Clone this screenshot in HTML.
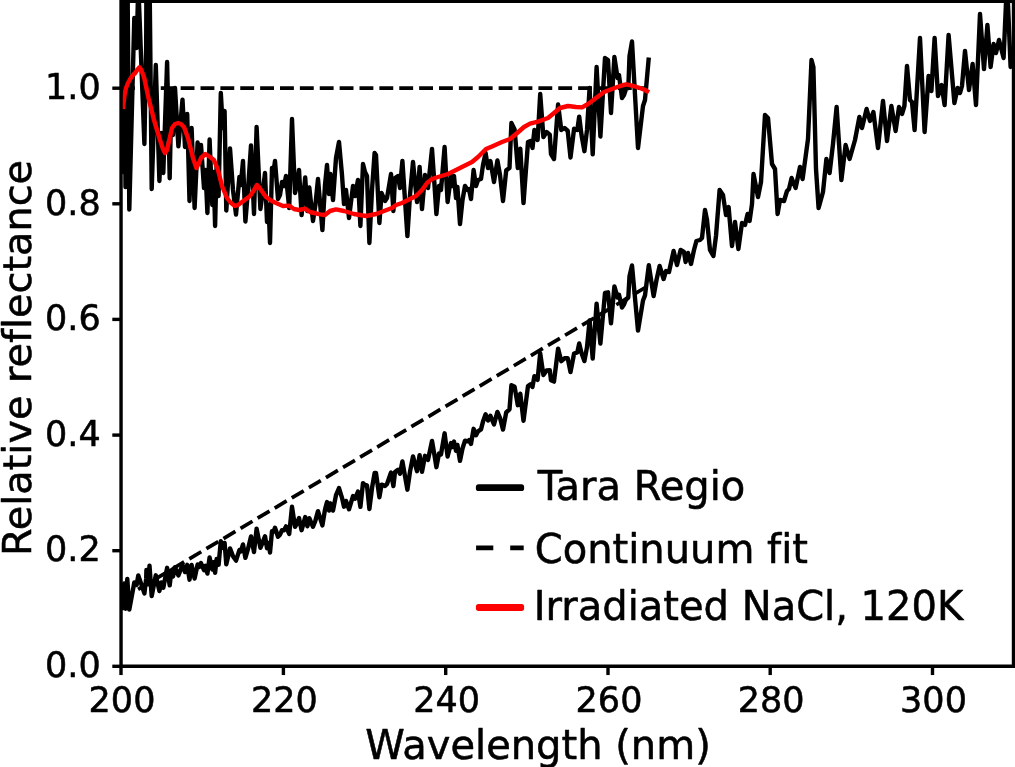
<!DOCTYPE html>
<html lang="en"><head><meta charset="utf-8"><title>Relative reflectance vs Wavelength</title>
<style>html,body{margin:0;padding:0;background:#fff}svg{display:block}text{font-variant-ligatures:none;font-feature-settings:"liga" 0,"clig" 0}</style></head>
<body>
<svg width="1015" height="767" viewBox="0 0 1015 767">
<rect width="1015" height="767" fill="#fff"/>
<defs><clipPath id="c"><rect x="121.05" y="1.2" width="892.45" height="665.0999999999999"/></clipPath></defs>
<g clip-path="url(#c)" fill="none" stroke-linejoin="round">
<polyline points="121.0,605.5 122.3,584.9 123.2,608.1 124.2,583.5 125.5,608.7 127.3,578.9 129.3,609.6 134.3,582.5 136.6,584.9 138.3,575.4 144.4,593.4 146.2,578.4 146.4,570.0 148.0,584.4 149.5,565.7 151.7,596.1 155.8,575.3 159.4,591.0 161.3,582.5 163.3,587.8 167.1,567.8 169.7,585.4 171.5,570.1 173.0,576.5 175.0,567.3 178.4,575.5 182.5,564.9 185.0,572.1 187.2,564.8 189.5,579.7 191.6,565.0 194.6,578.6 197.6,564.5 199.5,566.9 201.0,563.1 204.0,570.2 205.5,565.8 207.4,573.6 209.6,557.4 212.3,569.6 213.6,562.1 215.1,572.8 216.6,559.0 218.6,564.7 220.8,541.1 222.8,547.7 224.6,542.9 226.3,564.2 230.0,548.4 233.0,556.3 236.0,560.6 239.4,550.1 240.8,551.3 243.0,544.4 245.4,557.9 248.0,549.0 251.0,536.4 254.0,552.1 256.6,528.7 260.4,547.8 263.0,541.6 265.0,536.2 267.0,548.2 268.5,542.9 270.0,552.5 272.0,531.3 273.5,531.6 275.0,527.8 278.0,536.8 280.0,534.7 282.0,530.1 284.0,530.2 286.0,526.4 289.2,534.0 292.0,506.7 295.0,526.8 297.0,523.5 299.0,518.0 301.6,530.2 303.5,523.3 305.2,517.1 307.4,526.3 309.3,518.2 313.0,526.8 315.4,520.7 318.0,511.2 322.4,525.4 325.0,509.6 327.0,502.1 329.0,510.6 330.4,503.3 333.0,510.6 336.0,495.1 339.0,488.1 342.0,497.8 344.0,506.7 346.0,500.9 349.0,509.3 353.0,496.1 355.0,498.7 358.0,491.5 360.4,506.9 363.0,483.1 365.0,485.0 367.0,485.5 369.4,509.1 372.0,488.2 374.6,473.0 376.0,473.0 379.4,497.2 381.6,484.6 385.0,486.1 387.0,484.0 391.0,472.6 393.4,486.0 395.0,472.1 398.0,469.8 400.0,473.7 402.4,461.5 405.0,476.1 407.4,489.7 410.0,471.6 413.0,456.4 417.0,471.2 419.6,455.1 422.0,471.8 425.0,455.8 428.0,459.9 432.0,440.9 434.5,455.4 436.4,467.2 439.0,453.6 441.0,454.4 444.6,433.3 447.6,456.5 451.0,443.1 452.4,446.9 454.0,441.6 456.0,450.7 457.4,444.9 460.0,460.8 462.5,448.5 465.0,440.7 467.6,441.3 469.0,440.2 471.0,443.9 473.6,428.8 476.0,435.3 478.0,431.4 481.0,429.4 483.0,421.6 485.6,414.3 488.0,420.5 490.4,415.8 494.0,424.4 497.4,411.9 500.0,417.8 503.0,429.6 506.2,412.4 509.5,409.4 511.4,385.2 514.6,386.8 517.8,405.2 520.3,393.7 523.5,420.8 528.0,386.0 530.5,384.2 532.5,386.9 534.4,376.1 537.6,379.8 540.2,353.2 543.4,375.0 546.6,370.5 549.8,370.2 551.0,380.3 554.0,381.6 558.1,348.6 561.3,361.2 564.5,358.3 567.7,358.1 570.5,372.1 574.1,353.5 577.3,352.4 579.2,343.5 581.5,353.0 584.4,361.1 587.0,347.1 589.6,320.5 592.7,358.6 596.6,303.6 600.4,343.6 605.0,292.9 608.0,292.3 611.0,323.3 614.4,286.4 617.6,297.6 619.0,294.8 622.0,307.5 624.0,304.5 626.0,299.5 628.3,297.5 629.5,276.3 632.0,265.4 638.0,330.6 643.0,300.5 645.0,295.4 648.8,265.2 653.6,296.0 656.5,280.0 659.6,266.0 663.6,279.0 666.0,271.0 669.0,272.0 673.6,251.0 677.0,265.0 680.6,250.0 684.0,252.0 685.6,262.0 688.0,253.0 691.0,264.0 694.0,250.0 696.4,241.0 700.0,240.0 702.0,238.0 705.0,210.0 707.0,220.0 710.0,250.0 713.4,256.0 716.0,236.0 719.6,190.0 723.0,195.0 726.0,215.0 728.6,207.0 732.0,246.0 735.0,222.0 738.4,249.0 742.0,223.0 745.0,225.0 747.6,214.0 749.6,221.0 752.0,204.0 753.5,174.0 758.0,197.0 761.0,182.0 765.0,115.0 768.0,118.0 772.0,164.0 775.0,169.0 777.6,214.0 780.0,200.0 784.0,201.0 787.0,191.0 789.0,189.0 791.6,178.0 795.6,188.0 800.0,167.0 802.6,179.0 808.0,139.0 811.5,60.0 813.4,67.0 816.0,169.0 818.6,208.0 823.0,192.0 826.4,159.0 829.6,173.0 833.0,144.0 836.6,107.0 841.4,180.0 845.6,145.0 849.6,159.0 855.0,140.0 859.4,117.0 862.0,128.0 866.6,109.0 870.0,121.0 873.4,112.0 878.0,148.0 883.0,101.0 887.0,141.0 891.4,106.0 895.6,131.0 899.0,107.0 902.0,114.0 904.4,106.0 907.0,66.0 910.0,100.0 912.0,102.0 914.6,130.0 920.0,38.0 924.6,132.0 928.6,76.0 931.4,91.0 934.6,38.0 938.0,96.0 941.6,85.0 944.6,105.0 948.6,35.0 954.4,103.0 957.6,88.0 960.0,93.0 962.0,86.0 965.0,51.0 969.0,90.0 972.6,64.0 976.0,105.0 980.0,14.0 984.0,69.0 987.4,25.0 990.6,67.0 993.6,44.0 996.0,53.0 999.0,40.0 1003.6,58.0 1007.0,-20.0 1010.6,67.0 1013.0,64.0" stroke="#000" stroke-width="4.4" stroke-linecap="butt"/>
<path d="M121,599.5 L647.5,286.2" stroke="#000" stroke-width="3.75" stroke-dasharray="13.875,6"/>
<polyline points="121.0,140.0 122.3,-30.0 123.2,172.0 124.2,-30.0 125.5,187.0 127.3,-50.0 129.3,209.5 134.3,18.0 136.6,48.0 138.3,-15.0 144.4,144.0 146.2,45.0 146.4,-13.0 148.0,95.0 149.5,-28.0 151.7,189.0 155.8,65.0 159.4,181.0 161.3,133.0 163.3,173.0 167.1,62.0 169.7,178.3 171.5,92.0 173.0,135.0 175.0,88.0 178.4,146.3 182.5,99.6 185.0,147.0 187.2,114.0 189.5,201.0 191.6,128.0 194.6,208.0 197.6,142.5 199.5,160.0 201.0,145.0 204.0,188.0 205.5,170.0 207.4,213.0 209.6,139.5 212.3,205.0 213.6,172.0 215.1,226.0 216.6,165.0 218.6,196.0 220.8,93.0 222.8,128.0 224.6,111.0 226.3,210.5 230.0,148.5 233.0,190.0 236.0,214.5 239.4,177.0 240.8,185.0 243.0,161.0 245.4,221.5 248.0,190.0 251.0,145.5 254.0,214.0 256.6,127.0 260.4,209.0 263.0,190.0 265.0,173.0 267.0,222.0 268.5,205.0 270.0,243.0 272.0,168.0 273.5,172.0 275.0,161.0 278.0,199.0 280.0,195.0 282.0,182.0 284.0,186.0 286.0,176.0 289.2,208.0 292.0,119.0 295.0,193.0 297.0,185.0 299.0,170.0 301.6,215.0 303.5,195.0 305.2,177.5 307.4,211.0 309.3,187.5 313.0,221.0 315.4,205.0 318.0,179.0 322.4,230.0 325.0,185.0 327.0,165.0 329.0,194.0 330.4,174.0 333.0,200.0 336.0,158.0 339.0,142.0 342.0,175.0 344.0,204.0 346.0,190.0 349.0,218.0 353.0,186.0 355.0,196.0 358.0,180.0 360.4,226.0 363.0,164.0 365.0,172.0 367.0,176.0 369.4,243.0 372.0,190.0 374.6,153.0 376.0,155.0 379.4,223.0 381.6,193.0 385.0,201.0 387.0,198.0 391.0,174.0 393.4,211.0 395.0,178.0 398.0,176.0 400.0,188.0 402.4,161.0 405.0,200.0 407.4,236.0 410.0,195.0 413.0,162.0 417.0,202.0 419.6,167.0 422.0,209.0 425.0,175.0 428.0,188.0 432.0,149.0 434.5,185.0 436.4,214.0 439.0,186.0 441.0,190.0 444.6,147.0 447.6,202.0 451.0,176.0 452.4,186.0 454.0,176.0 456.0,198.0 457.4,187.0 460.0,224.0 462.5,200.0 465.0,186.0 467.6,190.0 469.0,189.0 471.0,199.0 473.6,170.0 476.0,186.0 478.0,180.0 481.0,179.0 483.0,165.0 485.6,153.0 488.0,168.0 490.4,161.0 494.0,182.0 497.4,160.5 500.0,175.0 503.0,201.0 506.2,170.4 509.5,168.0 511.4,123.0 514.6,129.5 517.8,168.0 520.3,148.7 523.5,203.0 528.0,142.0 530.5,141.0 532.5,148.0 534.4,130.0 537.6,140.0 540.2,94.0 543.4,137.0 546.6,132.0 549.8,134.6 551.0,154.0 554.0,159.0 558.1,104.5 561.3,130.0 564.5,128.0 567.7,130.7 570.5,157.6 574.1,128.8 577.3,130.0 579.2,116.6 581.5,135.0 584.4,151.2 587.0,130.0 589.6,88.0 592.7,154.4 596.6,67.0 600.4,136.5 605.0,58.0 608.0,60.0 611.0,113.0 614.4,57.0 617.6,78.0 619.0,75.0 622.0,98.0 624.0,95.0 626.0,89.0 628.3,88.0 629.5,56.0 632.0,41.5 638.0,148.0 643.0,106.0 645.0,100.0 648.8,57.5" stroke="#000" stroke-width="4.4" stroke-linecap="butt"/>
<path d="M121,88.1 H647.5" stroke="#000" stroke-width="3.75" stroke-dasharray="13.875,6"/>
<polyline points="122.9,109.0 123.6,103.0 124.5,95.0 126.0,88.0 128.0,83.0 130.5,78.5 133.0,75.0 135.2,73.0 137.5,69.5 139.5,67.3 141.3,70.0 144.0,77.0 148.5,98.0 154.0,120.0 160.0,140.0 163.0,149.0 165.0,153.0 167.0,150.0 172.0,128.0 175.0,124.0 178.0,123.0 181.0,124.0 184.0,127.0 188.0,138.0 193.0,158.0 196.4,168.0 198.5,164.0 201.0,158.0 205.4,154.0 210.0,157.0 214.0,160.0 218.0,170.0 222.0,186.0 227.0,198.0 231.0,203.0 235.0,206.0 238.0,205.0 242.0,202.0 250.0,196.0 254.0,190.0 257.0,185.0 259.0,187.0 261.0,190.0 266.0,197.0 271.0,200.5 276.0,203.0 283.0,206.0 289.0,205.6 294.0,209.0 299.0,210.0 305.0,208.6 310.0,212.0 320.0,214.4 325.0,215.0 330.0,211.0 336.0,209.4 344.0,211.0 354.0,214.0 366.0,216.0 376.0,214.0 384.0,211.0 392.0,208.0 396.0,205.0 402.0,203.0 408.0,200.0 416.0,196.0 422.0,190.0 427.0,183.0 432.0,179.0 438.0,177.0 448.0,174.0 458.0,169.0 466.0,165.0 472.0,162.0 478.0,157.0 486.0,149.0 492.0,146.4 502.0,142.0 510.0,139.0 516.0,134.0 524.0,127.0 530.0,123.6 538.0,121.6 548.0,118.0 554.0,113.0 560.0,108.0 568.0,106.0 576.0,107.0 582.0,107.4 588.0,104.0 596.0,98.0 604.0,92.0 612.0,89.0 620.0,86.0 626.0,84.4 632.0,85.6 640.0,88.0 645.0,90.0 649.0,92.4" stroke="#f00" stroke-width="4.4" stroke-linecap="butt"/>
</g>
<path d="M121.05,1.2 V666.3 H1013.5 V1.2 Z" stroke="#000" stroke-width="3.4" fill="none" stroke-linejoin="miter"/>
<g stroke="#000" stroke-width="3.4">
<line x1="121.0" y1="666.3" x2="121.0" y2="675.05"/>
<line x1="283.4" y1="666.3" x2="283.4" y2="675.05"/>
<line x1="445.7" y1="666.3" x2="445.7" y2="675.05"/>
<line x1="608.0" y1="666.3" x2="608.0" y2="675.05"/>
<line x1="770.2" y1="666.3" x2="770.2" y2="675.05"/>
<line x1="932.5" y1="666.3" x2="932.5" y2="675.05"/>
<line x1="112.3" y1="666.3" x2="121.05" y2="666.3"/>
<line x1="112.3" y1="550.7" x2="121.05" y2="550.7"/>
<line x1="112.3" y1="435.1" x2="121.05" y2="435.1"/>
<line x1="112.3" y1="319.4" x2="121.05" y2="319.4"/>
<line x1="112.3" y1="203.8" x2="121.05" y2="203.8"/>
<line x1="112.3" y1="88.2" x2="121.05" y2="88.2"/>
</g>
<g font-family="'DejaVu Sans', 'Liberation Sans', sans-serif" fill="#000" stroke="#000" stroke-width="0.55" stroke-linejoin="round">
<g font-size="35" text-anchor="middle">
<text x="122.0" y="712.4">200</text>
<text x="284.4" y="712.4">220</text>
<text x="446.7" y="712.4">240</text>
<text x="609.0" y="712.4">260</text>
<text x="771.2" y="712.4">280</text>
<text x="933.5" y="712.4">300</text>
</g>
<g font-size="35" text-anchor="end">
<text x="100.7" y="677.0">0.0</text>
<text x="100.7" y="561.4">0.2</text>
<text x="100.7" y="445.8">0.4</text>
<text x="100.7" y="330.1">0.6</text>
<text x="100.7" y="214.5">0.8</text>
<text x="100.7" y="98.9">1.0</text>
</g>
<text x="538" y="758.6" font-size="40" text-anchor="middle">Wavelength (nm)</text>
<text transform="translate(30.5,358) rotate(-90)" font-size="39.8" text-anchor="middle">Relative reflectance</text>
<g font-size="40">
<text x="537.7" y="499.9">Tara Regio</text>
<text x="534.8" y="562.8">Continuum fit</text>
<text x="533.8" y="619.5">Irradiated NaCl, 120K</text>
</g></g>
<g fill="none">
<rect x="475.9" y="484.2" width="48.2" height="6.9" rx="2.6" fill="#000"/>
<path d="M476.1,547.8 H493.3 M510.2,547.8 H523.7" stroke="#000" stroke-width="4.8"/>
<rect x="475.9" y="604.0" width="48.2" height="6.9" rx="2.6" fill="#f00"/>
</g>
</svg>
</body></html>
